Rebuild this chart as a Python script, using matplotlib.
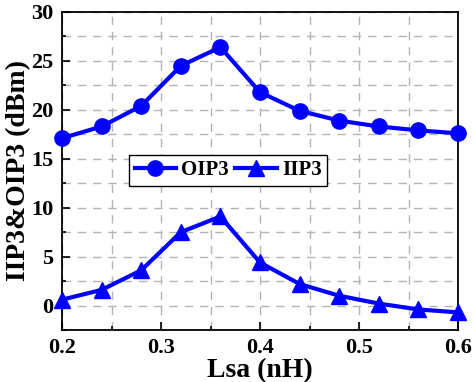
import numpy as np
import matplotlib.pyplot as plt
from matplotlib.ticker import MultipleLocator

# data
lsa = [0.20, 0.24, 0.28, 0.32, 0.36, 0.40, 0.44, 0.48, 0.52, 0.56, 0.60]
oip3 = [17.1, 18.3, 20.4, 24.5, 26.4, 21.8, 19.9, 18.9, 18.3, 17.9, 17.6]
iip3 = [0.6, 1.6, 3.6, 7.5, 9.1, 4.4, 2.2, 1.0, 0.2, -0.4, -0.7]

plt.rcParams['font.family'] = ['Liberation Serif', 'DejaVu Serif']
plt.rcParams['font.weight'] = 'bold'

fig = plt.figure(figsize=(4.74, 3.82), dpi=100)
ax = fig.add_axes([62 / 474, 1 - 330 / 382, 396 / 474, 318 / 382])

ax.plot(lsa, oip3, color='#0000ff', lw=3, marker='o', ms=11, label='OIP3', clip_on=False, zorder=3)
ax.plot(lsa, iip3, color='#0000ff', lw=3, marker='^', ms=11, label='IIP3', clip_on=False, zorder=3)

ax.set_xlim(0.2, 0.6)
ax.set_ylim(-2.5, 30)
ax.xaxis.set_major_locator(MultipleLocator(0.1))
ax.xaxis.set_minor_locator(MultipleLocator(0.05))
ax.yaxis.set_major_locator(MultipleLocator(5))
ax.yaxis.set_minor_locator(MultipleLocator(2.5))
ax.tick_params(which='both', direction='in', width=1.2, labelsize=16, pad=6)
ax.tick_params(which='major', length=6)
ax.tick_params(which='minor', length=3)
for lbl in ax.get_xticklabels() + ax.get_yticklabels():
    lbl.set_fontweight('bold')

ax.grid(which='both', color='#b4b4b4', ls=(0, (6, 5)), lw=1.0)
for s in ax.spines.values():
    s.set_linewidth(1.3)

ax.set_xlabel('Lsa (nH)', fontsize=20, fontweight='bold', labelpad=0)
ax.set_ylabel('IIP3&OIP3 (dBm)', fontsize=20, fontweight='bold', labelpad=0)

leg = ax.legend(ncol=2, loc='upper left', bbox_to_anchor=(0.17, 0.55), fancybox=False,
                edgecolor='black', framealpha=1, fontsize=15, handlelength=2.0,
                columnspacing=0.3, handletextpad=0.25, borderpad=0.25, borderaxespad=0)
leg.get_frame().set_linewidth(1.0)
for t in leg.get_texts():
    t.set_fontweight('bold')

fig.savefig('out.png', dpi=100)
